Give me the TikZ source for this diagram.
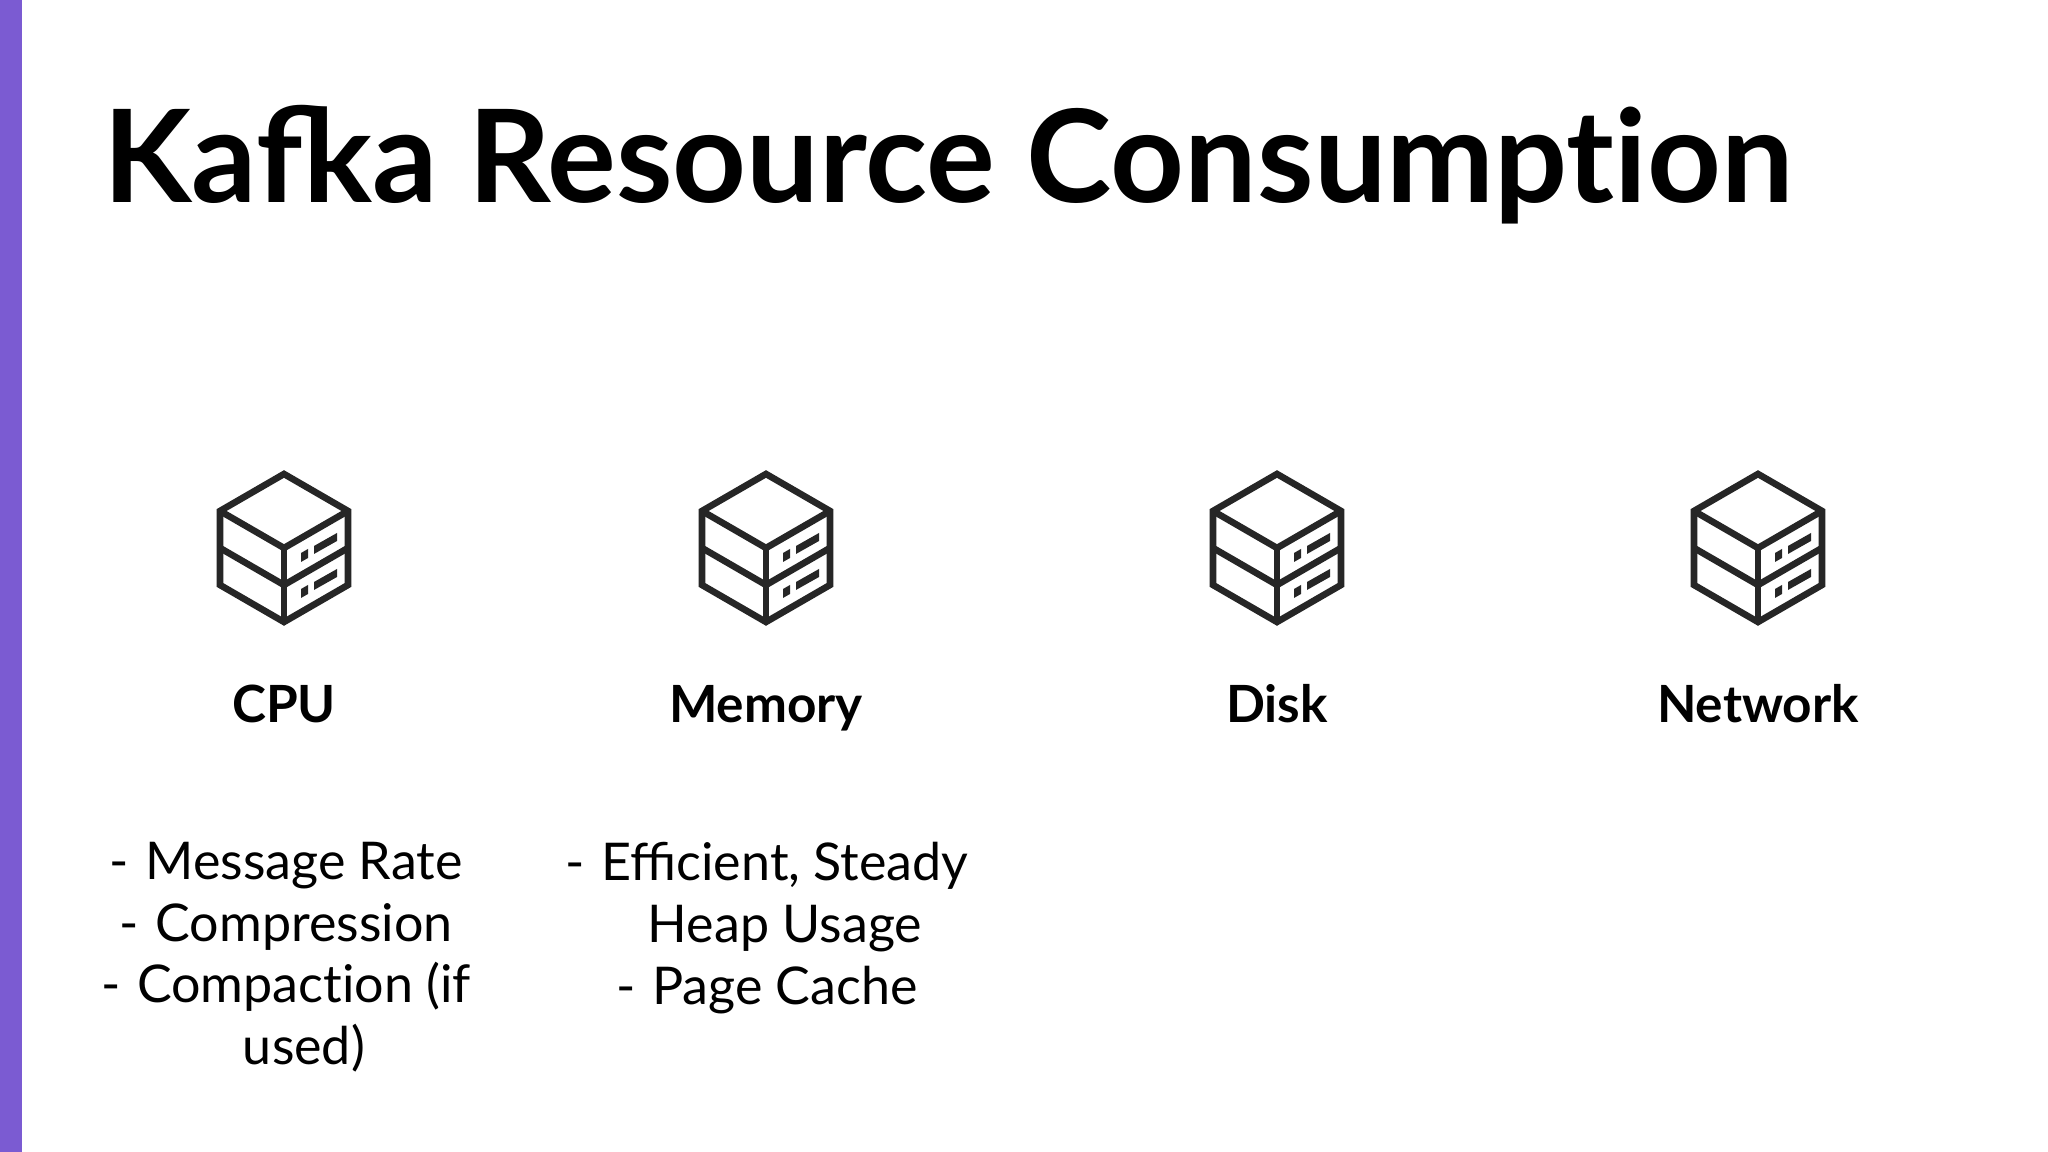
\documentclass[tikz,border=0pt]{standalone}
\usepackage{fontspec}
\setmainfont{Lato}
\usetikzlibrary{positioning}
\definecolor{sidebar}{HTML}{7B5BD2}
\definecolor{iconline}{HTML}{262626}
\tikzset{
    titletext/.style={anchor=base west,inner sep=0,font=\fontsize{36.65}{36.65}\selectfont\bfseries},
    headtext/.style={anchor=base,inner sep=0,font=\fontsize{14.6}{14.6}\selectfont\bfseries},
    listtext/.style={anchor=north,inner sep=0,align=center,font=\fontsize{14.8}{17.5}\selectfont},
}
\newcommand{\Dash}{-\hspace{0.32em}}
\newcommand{\Hang}{\phantom{\Dash}}
\newcommand{\ServerIcon}[1]{%
    \begin{scope}[shift={(#1)},line width=0.066cm,color=iconline,join=miter]
    \draw (0,.74)--(.64,.37)--(.64,-.37)--(0,-.74)--(-.64,-.37)--(-.64,.37)--cycle ;
    \draw (-.64,.37)--(0,0)--(.64,.37) ;
    \draw (0,0)--(0,-.74) ;
    \draw (-.64,0)--(0,-.37)--(.64,0) ;
    \foreach \y in {0,-.36}{
        \fill (.30,-.06+\y)--(.53,.07+\y)--(.53,.15+\y)--(.30,.02+\y)--cycle ;
        \fill (.17,-.14+\y)--(.24,-.10+\y)--(.24,-.01+\y)--(.17,-.05+\y)--cycle ;
    }
    \end{scope}
}
\begin{document}
\begin{tikzpicture}
\useasboundingbox (0,0) rectangle (20.48,11.52);
\fill[white] (0,0) rectangle (20.48,11.52);
\fill[sidebar] (0,0) rectangle (.22,11.52);

\node[titletext] (title) at (1.03,9.49) {Kafka Resource Consumpt\kern0pt ion};

\ServerIcon{2.84,6.04}
\ServerIcon{7.66,6.04}
\ServerIcon{12.77,6.04}
\ServerIcon{17.58,6.04}

\node[headtext] (cpu) at (2.84,4.29) {CPU};
\node[headtext] (memory) at (7.66,4.29) {Memory};
\node[headtext] (disk) at (12.77,4.29) {Disk};
\node[headtext] (network) at (17.58,4.29) {Network};

\node[listtext] (cpulist) at (2.86,3.10) {\Dash Message Rate\\ \Dash Compression\\ \Dash Compact\kern0pt ion (if\\ \Hang used)};
\node[listtext] (memorylist) at (7.67,3.10) {\Dash Efficient, Steady\\ \Hang Heap Usage\\ \Dash Page Cache};

\end{tikzpicture}
\end{document}
